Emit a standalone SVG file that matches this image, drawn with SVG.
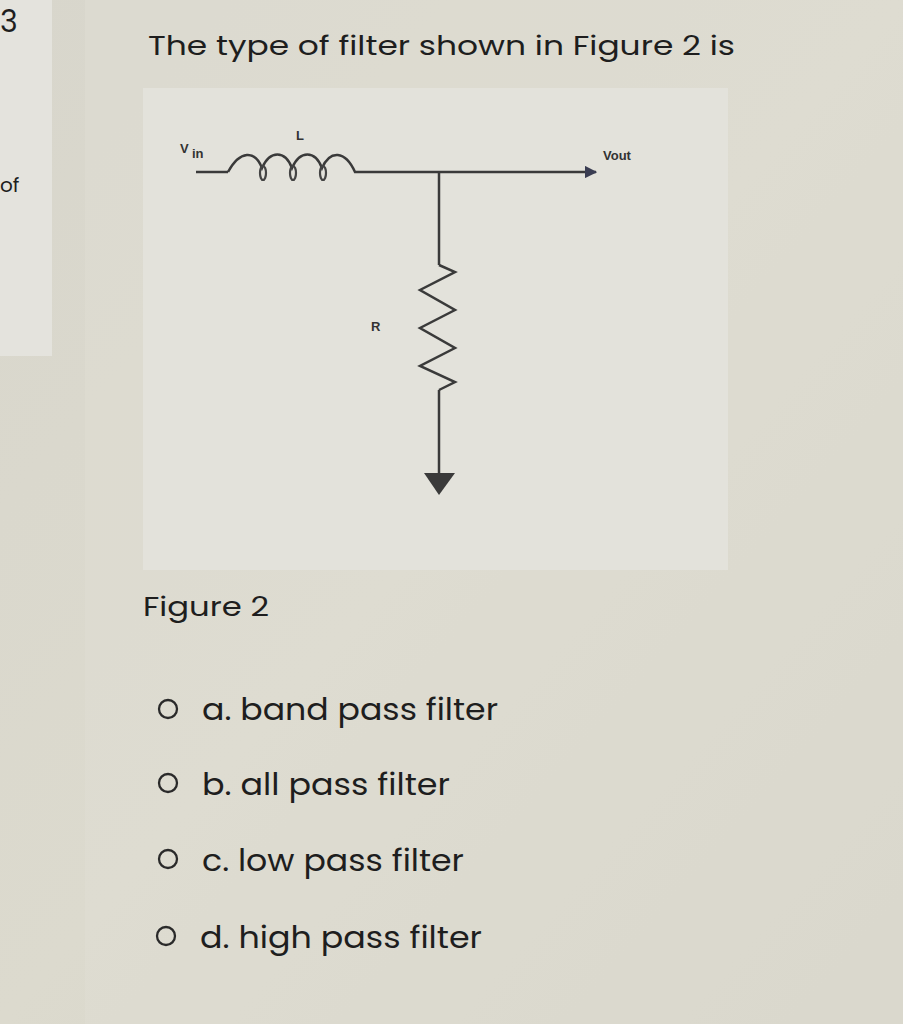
<svg xmlns="http://www.w3.org/2000/svg" width="903" height="1024" viewBox="0 0 903 1024">
<defs>
<linearGradient id="bg" x1="0" y1="0" x2="1" y2="1"><stop offset="0" stop-color="#d8d6cc"/><stop offset="0.5" stop-color="#dcdace"/><stop offset="1" stop-color="#d4d2c6"/></linearGradient>
<marker id="arr" viewBox="0 0 10 10" refX="9" refY="5" markerWidth="5" markerHeight="5" orient="auto"><path d="M0,0 L10,5 L0,10 z" fill="#3a3d52"/></marker>
</defs>
<style>
.t{font-family:"Poppins","Lato","Open Sans",sans-serif;fill:#1e1e1e}
.w{stroke:#3a3a3a;stroke-width:2.5;fill:none}
.lbl{font-family:"Liberation Sans",sans-serif;font-weight:bold;fill:#333;font-size:13px}
.rb{fill:none;stroke:#444;stroke-width:2.2}
</style>
<rect width="903" height="1024" fill="url(#bg)"/>
<rect x="0" y="0" width="52" height="356" fill="#e4e3dd"/>
<rect x="85" y="0" width="818" height="1024" fill="#dfddd3" opacity="0.5"/>
<rect x="143" y="88" width="585" height="482" fill="#e3e2db"/>
<text class="t" x="0" y="32" font-size="30">3</text>
<text class="t" x="0" y="192" font-size="20">of</text>
<text class="t" x="148" y="55" font-size="27" textLength="587" lengthAdjust="spacingAndGlyphs">The type of filter shown in Figure 2 is</text>
<g id="circuit">
<g id="connectors">
<path class="w" d="M196,172 H228"/>
<path class="w" d="M228,172 C240,150 255,150 262,168 C270,150 285,150 292,168 C300,150 315,150 322,168 C330,150 345,150 355,172 H596" marker-end="url(#arr)"/>
<path class="w" d="M439,172 V265"/>
<path class="w" d="M439,265 L455,272 L420,290 L455,310 L420,328 L455,348 L420,366 L455,382 L439,390"/>
<path class="w" d="M439,390 V476"/>
</g>
<ellipse class="rb" cx="263" cy="173" rx="3" ry="7"/>
<ellipse class="rb" cx="293" cy="173" rx="3" ry="7"/>
<ellipse class="rb" cx="323" cy="173" rx="3" ry="7"/>
<path d="M424,473 H455 L439,495 z" fill="#3a3a3a"/>
<text class="lbl" x="180" y="153">V</text><text class="lbl" x="192" y="158" font-size="9">in</text>
<text class="lbl" x="296" y="140">L</text>
<text class="lbl" x="603" y="160">Vout</text>
<text class="lbl" x="371" y="331">R</text>
</g>
<text class="t" x="143" y="616" font-size="26" textLength="126" lengthAdjust="spacingAndGlyphs">Figure 2</text>
<g id="options" fill="none" stroke="#2a2a2a" stroke-width="2.3">
<circle cx="168" cy="709" r="9"/>
<circle cx="168" cy="783" r="9"/>
<circle cx="168" cy="859" r="9"/>
<circle cx="166" cy="936" r="9"/>
</g>
<text class="t" x="202" y="720" font-size="30" textLength="296" lengthAdjust="spacingAndGlyphs">a. band pass filter</text>
<text class="t" x="202" y="795" font-size="30" textLength="248" lengthAdjust="spacingAndGlyphs">b. all pass filter</text>
<text class="t" x="202" y="871" font-size="30" textLength="262" lengthAdjust="spacingAndGlyphs">c. low pass filter</text>
<text class="t" x="200" y="948" font-size="30" textLength="282" lengthAdjust="spacingAndGlyphs">d. high pass filter</text>
</svg>
